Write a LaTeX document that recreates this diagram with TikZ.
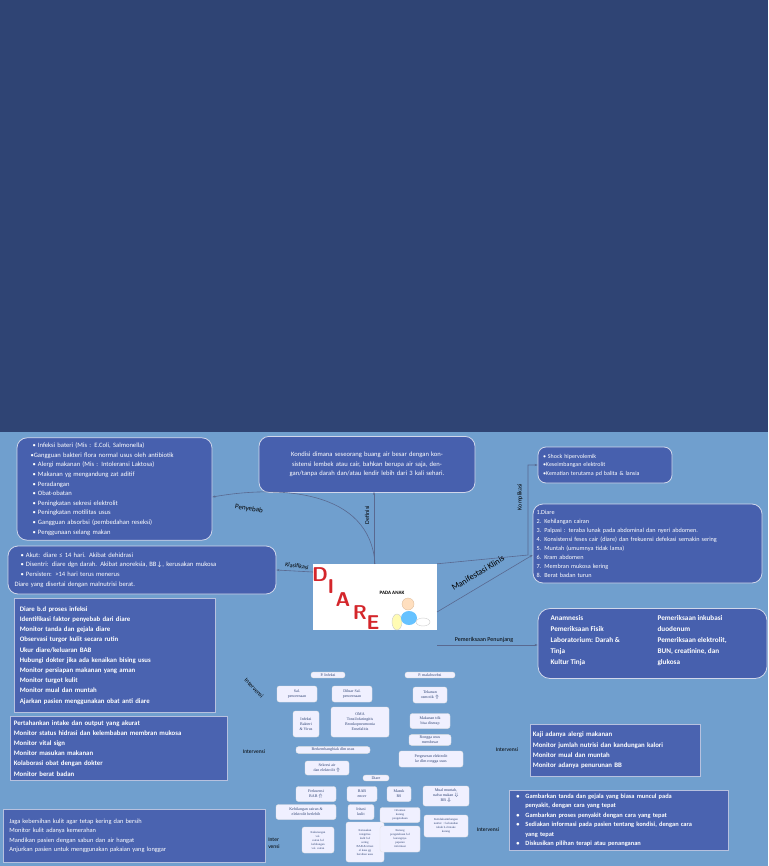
\documentclass[tikz,border=0pt]{standalone}
\usepackage{fontspec}
\setmainfont{Carlito}
\newfontfamily\tinyserif{Liberation Serif}
\usetikzlibrary{arrows.meta}
\definecolor{navy}{HTML}{2F4474}
\definecolor{bgblue}{HTML}{709FCE}
\definecolor{boxblue}{HTML}{4760AE}
\definecolor{sqblue}{HTML}{4A63B0}
\definecolor{dred}{HTML}{D4262B}
\begin{document}
\begin{tikzpicture}[x=1pt,y=-1pt,
 box/.style={draw=white!75!boxblue,line width=0.8pt,fill=boxblue,text=white,rounded corners=10pt,inner sep=5pt,align=left,font=\fontsize{6.6}{9.6}\selectfont},
 sq/.style={draw=white!60!sqblue,line width=0.6pt,fill=sqblue,text=white,inner sep=4pt,align=left,font=\bfseries\fontsize{6.8}{10.2}\selectfont},
 wn/.style={draw=white!80!gray,fill=white!94!blue,text=navy,rounded corners=2.5pt,inner sep=1.5pt,align=center,font=\tinyserif\fontsize{4}{5}\selectfont},
 conn/.style={draw=navy!80,line width=0.6pt,-{Stealth[length=3pt]}},
 lab/.style={font=\fontsize{7}{8}\selectfont,text=black,inner sep=1pt},
 slab/.style={font=\fontsize{6}{7}\selectfont,text=black,inner sep=1pt,align=center}]
\useasboundingbox (0,0) rectangle (768,866);
\fill[navy] (0,0) rectangle (768,432);
\fill[bgblue] (0,432) rectangle (768,866);

% main boxes
\node[box,minimum width=195pt,minimum height=102pt,text width=180pt] (peny) at (114.5,489) {%
\hspace*{8pt}• Infeksi bateri (Mis : E.Coli, Salmonella)\\
\hspace*{6pt}•Gangguan bakteri flora normal usus oleh antibiotik\\
\hspace*{8pt}• Alergi makanan (Mis : Intoleransi Laktosa)\\
\hspace*{8pt}• Makanan yg mengandung zat aditif\\
\hspace*{8pt}• Peradangan\\
\hspace*{8pt}• Obat-obatan\\
\hspace*{8pt}• Peningkatan sekresi elektrolit\\
\hspace*{8pt}• Peningkatan motilitas usus\\
\hspace*{8pt}• Gangguan absorbsi (pembedahan reseksi)\\
\hspace*{8pt}• Penggunaan selang makan};
\node[box,minimum width=268pt,minimum height=48pt,text width=255pt] (klas) at (142,570) {%
\hspace*{6pt}• Akut: diare ≤ 14 hari. Akibat dehidrasi\\
\hspace*{6pt}• Disentri: diare dgn darah. Akibat anoreksia, BB↓, kerusakan mukosa\\
\hspace*{6pt}• Persisten: >14 hari terus menerus\\
Diare yang disertai dengan malnutrisi berat.};
\node[box,minimum width=216pt,minimum height=56pt,text width=200pt,align=center,anchor=north,font=\fontsize{6.6}{9.2}\selectfont] (def) at (367,436) {Kondisi dimana seseorang buang air besar dengan konsistensi lembek atau cair, bahkan berupa air saja, dengan/tanpa darah dan/atau lendir lebih dari 3 kali sehari.};
\node[box,minimum width=134pt,minimum height=36pt,text width=124pt,font=\fontsize{6}{8.4}\selectfont,rounded corners=8pt] (komp) at (605,465) {%
• Shock hipervolemik\\ •Keseimbangan elektrolit\\ •Kematian terutama pd balita \& lansia};
\node[box,minimum width=229pt,minimum height=79pt,text width=222pt,inner sep=3pt,font=\fontsize{6.2}{9}\selectfont] (man) at (647.5,543.5) {%
1.Diare\\ 2. Kehilangan cairan\\ 3. Palpasi : teraba lunak pada abdominal dan nyeri abdomen.\\
4. Konsistensi feses cair (diare) dan frekuensi defekasi semakin sering\\ 5. Muntah (umumnya tidak lama)\\
6. Kram abdomen\\ 7. Membran mukosa kering\\ 8. Berat badan turun};
\node[box,minimum width=229pt,minimum height=70pt,rounded corners=12pt] (pem) at (652.5,643.5) {};
\node[text=white,align=left,font=\bfseries\fontsize{7.2}{11}\selectfont,anchor=north west] at (547,612) {Anamnesis\\Pemeriksaan Fisik\\Laboratorium: Darah \&\\Tinja\\Kultur Tinja};
\node[text=white,align=left,font=\bfseries\fontsize{7.2}{11}\selectfont,anchor=north west] at (654,612) {Pemeriksaan inkubasi\\duodenum\\Pemeriksaan elektrolit,\\BUN, creatinine, dan\\glukosa};

\node[sq,minimum width=201pt,minimum height=114pt,text width=190pt,anchor=north west] (iv1) at (14,598) {%
Diare b.d proses infeksi\\ Identifikasi faktor penyebab dari diare\\ Monitor tanda dan gejala diare\\
Observasi turgor kulit secara rutin\\ Ukur diare/keluaran BAB\\ Hubungi dokter jika ada kenaikan bising usus\\
Monitor persiapan makanan yang aman\\ Monitor turgot kulit\\ Monitor mual dan muntah\\ Ajarkan pasien menggunakan obat anti diare\\[4pt]};
\node[sq,minimum width=217pt,minimum height=64pt,text width=210pt,anchor=north west,inner sep=2pt] (iv2) at (10,716) {%
Pertahankan intake dan output yang akurat\\ Monitor status hidrasi dan kelembaban membran mukosa\\ Monitor vital sign\\ Monitor masukan makanan\\ Kolaborasi obat dengan dokter\\ Monitor berat badan};
\node[sq,minimum width=170pt,minimum height=52pt,text width=165pt,anchor=north west,inner sep=1.5pt] (iv3) at (530,724) {%
Kaji adanya alergi makanan\\ Monitor jumlah nutrisi dan kandungan kalori\\ Monitor mual dan muntah\\ Monitor adanya penurunan BB\\[6pt]};
\node[sq,minimum width=219pt,minimum height=60pt,text width=205pt,anchor=north west,inner sep=2pt,font=\bfseries\fontsize{6.4}{9.4}\selectfont] (iv4) at (509,790) {%
•\hspace{6pt}Gambarkan tanda dan gejala yang biasa muncul pada\\ \hspace*{9pt}penyakit, dengan cara yang tepat\\
•\hspace{6pt}Gambarkan proses penyakit dengan cara yang tepat\\ •\hspace{6pt}Sediakan informasi pada pasien tentang kondisi, dengan cara\\ \hspace*{9pt}yang tepat\\ •\hspace{6pt}Diskusikan pilihan terapi atau penanganan};
\node[sq,minimum width=262pt,minimum height=53pt,text width=250pt,anchor=north west,font=\fontsize{6.4}{9.4}\selectfont] (iv5) at (3,809) {%
Jaga kebersihan kulit agar tetap kering dan bersih\\ Monitor kulit adanya kemerahan\\ Mandikan pasien dengan sabun dan air hangat\\ Anjurkan pasien untuk menggunakan pakaian yang longgar};

% center image
\node[fill=white,minimum width=124pt,minimum height=66pt,inner sep=0pt] (img) at (375,597) {};
\begin{scope}[font=\bfseries\sffamily\fontsize{20}{20}\selectfont,text=dred]
\node at (320,575) {D};\node at (331,587) {I};\node at (343,600) {A};\node at (360,613) {R};\node at (373,623) {E};
\end{scope}
\node[font=\fontsize{5}{6}\selectfont\bfseries] at (392,593) {PADA ANAK};
\fill[yellow!30!white,draw=gray!40] (397,622) ellipse (5pt and 8pt);
\fill[blue!40!cyan!60] (409,618) ellipse (8pt and 7pt);
\fill[orange!25!white,draw=brown!50] (408,604) circle (6pt);
\fill[white,draw=gray!40] (423,622) ellipse (7pt and 4pt);

% connectors
\draw[conn] (img.north) .. controls (370,490) and (280,485) .. (peny.east|-0,497);
\node[lab,rotate=-8] at (249,509) {Penyebab};
\draw[conn] (374,564) -- (374,492);
\node[slab,rotate=90] at (367,515) {Definisi};
\draw[conn] (img.west|-0,572) -- (klas.east|-0,570);
\node[lab,rotate=-8,font=\fontsize{6}{7}\selectfont] at (297,566) {Klasifikasi};
\draw[conn] (img.north east) -- (528,555) -- (528,465) -- (komp.west);
\node[slab,rotate=90] at (520,497) {Komplikasi};
\draw[conn] (437,612) -- (man.west|-0,555);
\node[lab,rotate=31,font=\fontsize{8.5}{9}\selectfont] at (478,573) {Manifestasi Klinis};
\draw[conn] (437,645) -- (pem.west|-0,645);
\node[slab,anchor=south] at (484,644) {Pemeriksaan Penunjang};

\node[slab,rotate=-45] at (254,688) {Intervensi};
\node[slab,font=\fontsize{5.5}{6}\selectfont] at (254,752) {Intervensi};
\node[slab,font=\fontsize{5.5}{6}\selectfont] at (507,750) {Intervensi};
\node[slab,font=\fontsize{5.5}{6}\selectfont] at (488,830) {Intervensi};
\node[slab,font=\fontsize{5.5}{6.5}\selectfont,align=left] at (274,843) {Inter\\vensi};

% small flow nodes
\node[wn,minimum width=34pt] (pi) at (328,675) {P. Infeksi};
\node[wn,minimum width=50pt] (pm) at (430,675) {P. malabsorbsi};
\node[wn,minimum width=40pt,minimum height=16pt] (sp) at (297,694) {Sal.\\pencernaan};
\node[wn,minimum width=40pt,minimum height=16pt] (dsp) at (352,694) {Diluar Sal.\\pencernaan};
\node[wn,minimum width=34pt,minimum height=16pt] (to) at (430,695) {Tekanan\\osmotik $\Uparrow$};
\node[wn,minimum width=26pt,minimum height=26pt] (ib) at (306,724) {Infeksi\\Bakteri\\\& Virus};
\node[wn,minimum width=58pt,minimum height=30pt] (oma) at (360,722) {OMA\\Tonsilofaringitis\\Bronkopneumonia\\Ensefalitis};
\node[wn,minimum width=40pt,minimum height=15pt] (mt) at (430,721) {Makanan tdk\\bisa diserap};
\node[wn,minimum width=42pt,minimum height=10pt] (rg) at (430,740) {Rongga usus\\membesar};
\node[wn,minimum width=74pt] (bb) at (333,750) {Berkembangbiak dlm usus};
\node[wn,minimum width=64pt,minimum height=16pt] (pe) at (431,759) {Pergeseran elektrolit\\ke dlm rongga usus};
\node[wn,minimum width=44pt,minimum height=14pt] (se) at (327,768) {Sekresi air\\dan elektrolit $\Uparrow$};
\node[wn,minimum width=26pt] (di) at (376,778) {Diare};
\node[wn,minimum width=40pt,minimum height=15pt] (fb) at (316,794) {Frekuensi\\BAB $\Uparrow$};
\node[wn,minimum width=30pt,minimum height=15pt] (be) at (362,794) {BAB\\encer};
\node[wn,minimum width=24pt,minimum height=15pt] (rs) at (399,794) {Masuk\\RS};
\node[wn,minimum width=46pt,minimum height=20pt] (mm) at (446,796) {Mual muntah,\\nafsu makan $\Downarrow$\\BB $\Downarrow$};
\node[wn,minimum width=60pt,minimum height=15pt] (kc) at (306,812) {Kehilangan cairan \&\\elektrolit berlebih};
\node[wn,minimum width=26pt,minimum height=15pt] (ik) at (361,812) {Iritasi\\kulit};
\node[wn,minimum width=40pt,minimum height=15pt,font=\tinyserif\fontsize{3}{4}\selectfont] (ok) at (400,815) {Orientasi\\kurang\\pengetahuan};
\node[wn,minimum width=32pt,minimum height=26pt,font=\tinyserif\fontsize{3}{4}\selectfont] (d1) at (318,840) {Kekurangan\\vol.\\cairan b.d\\kehilangan\\vol. cairan};
\node[wn,minimum width=38pt,minimum height=40pt,font=\tinyserif\fontsize{3}{4}\selectfont] (d2) at (365,842) {Kerusakan\\integritas\\kulit b.d\\sering\\BAB \& iritasi\\el kaus gg\\bersihan usus};
\node[wn,minimum width=40pt,minimum height=26pt,font=\tinyserif\fontsize{3}{4}\selectfont] (d3) at (400,839) {Kurang\\pengetahuan b.d\\kurangnya\\paparan\\informasi};
\node[wn,minimum width=44pt,minimum height=22pt,font=\tinyserif\fontsize{3}{4}\selectfont] (d4) at (446,826) {Ketidakseimbangan\\nutrisi: < kebutuhan\\tubuh b.d intake\\kurang};
\end{tikzpicture}
\end{document}
